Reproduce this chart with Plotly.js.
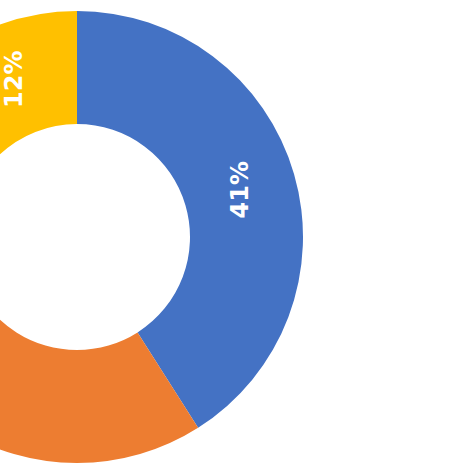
<!DOCTYPE html>
<html>
<head>
<meta charset="utf-8">
<script src="https://cdn.plot.ly/plotly-3.0.1.min.js"></script>
<style>
html, body { margin: 0; padding: 0; width: 474px; height: 474px; overflow: hidden; background: #fff; }
#chart { position: absolute; left: -149px; top: 11px; width: 452px; height: 452px; }
</style>
</head>
<body>
<div id="chart"></div>
<script>
const categories = ["Category A", "Category B", "Category C", "Category D"];
const values = [41, 36, 11, 12];
const labelsText = ["41%", "36%", "11%", "12%"];
const colors = ["#4472C4", "#ED7D31", "#A5A5A5", "#FFC000"];

const total = values.reduce((a, b) => a + b, 0);
const hole = 0.5;
const annotations = [];
let cum = 0;
values.forEach((v, i) => {
  const mid = (cum + v / 2) / total * 2 * Math.PI;
  cum += v;
  const r = 0.5 * (1 + hole) / 2;
  annotations.push({
    xref: "paper", yref: "paper",
    x: 0.5 + r * Math.sin(mid),
    y: 0.5 + r * Math.cos(mid),
    text: labelsText[i],
    showarrow: false,
    textangle: -90,
    xanchor: "center", yanchor: "middle",
    font: { family: "DejaVu Sans", size: 24, color: "#ffffff", weight: "bold" }
  });
});

Plotly.newPlot("chart", [{
  type: "pie",
  labels: categories,
  values: values,
  hole: hole,
  sort: false,
  direction: "clockwise",
  rotation: 0,
  textinfo: "none",
  hoverinfo: "none",
  marker: { colors: colors, line: { width: 0 } }
}], {
  width: 452, height: 452,
  margin: { l: 0, r: 0, t: 0, b: 0 },
  showlegend: false,
  paper_bgcolor: "rgba(0,0,0,0)",
  plot_bgcolor: "rgba(0,0,0,0)",
  annotations: annotations
}, { displayModeBar: false, staticPlot: true });
</script>
</body>
</html>
